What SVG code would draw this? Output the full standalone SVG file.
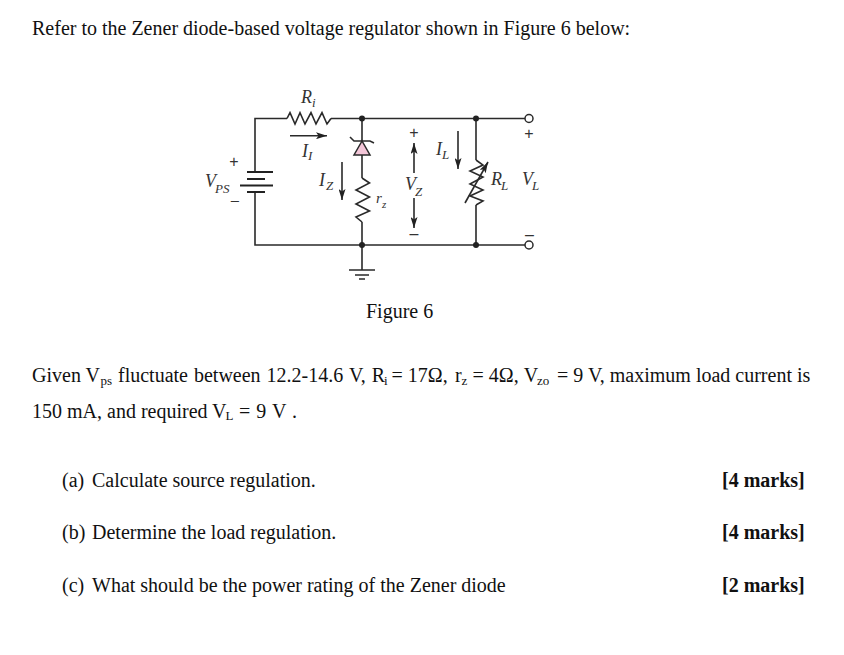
<svg xmlns="http://www.w3.org/2000/svg" width="844" height="655" viewBox="0 0 844 655">
<style>
text{font-family:"Liberation Serif","Times New Roman",serif;fill:#111}
.t{font-size:20px}
.s{font-size:13px}
.m{font-weight:bold}
.c{font-size:18px;font-style:italic;fill:#333}
.cs{font-size:13px;font-style:italic;fill:#333}
.p{font-size:16px;font-family:"Liberation Sans",sans-serif;fill:#333;text-anchor:middle}
.w{fill:none;stroke:#2a2a2a;stroke-width:1.6}
.b{fill:none;stroke:#222;stroke-width:2.2}
.d{fill:#222}
</style>
<defs>
<marker id="ah" viewBox="0 0 11 7" refX="11" refY="3.500" markerWidth="11" markerHeight="7" markerUnits="userSpaceOnUse" orient="auto"><path d="M0 0L11 3.500L0 7L2.500 3.500Z" fill="#222"/></marker>
</defs>
<rect width="844" height="655" fill="#fff"/>
<g id="heading"><text class="t" x="32" y="35">Refer to the Zener diode-based voltage regulator shown in Figure 6 below:</text></g>
<g id="connectors">
<path class="w" d="M287 118.500H255V172M255 192V245H525M331 118.500H525M362 118.500V178M362 222V270M476 118.500V160M476 205V245"/>
<path class="w" d="M290 135.700H327" marker-end="url(#ah)"/>
<path class="w" d="M342 162V200" marker-end="url(#ah)"/>
<path class="w" d="M458 131V169" marker-end="url(#ah)"/>
<path class="w" d="M414 173V143" marker-end="url(#ah)"/>
<path class="w" d="M414 198V228" marker-end="url(#ah)"/>
</g>
<g id="battery"><path class="b" d="M247 172H273M247 179H265M240 185.500H273M247 192H265"/>
<text class="p" x="234" y="167">+</text><text class="p" x="235" y="199" style="font-size:14px">_</text>
<text class="c" x="205" y="187">V</text><text class="cs" x="215" y="193">PS</text></g>
<g id="ri"><path class="w" d="M287 118.500L290 112.700L295 124L300 112.700L305 124L311 112.700L316 124L322 112.700L327 124L331 118.500"/>
<text class="c" x="301" y="103">R</text><text class="cs" x="312" y="107">i</text>
<text class="c" x="302" y="157">I</text><text class="cs" x="308" y="160">I</text></g>
<g id="zener"><path d="M362 141L354 155H370Z" fill="#f3c6d8" stroke="#2a2a2a" stroke-width="1.500"/>
<path class="w" d="M350 137L354 141H370L374 143"/>
<text class="c" x="319" y="186">I</text><text class="cs" x="326" y="190">Z</text></g>
<g id="rz"><path class="w" d="M362 178L369.500 183L356 190L369.500 197L356 204L369.500 211L356 217L362 222"/>
<text class="cs" x="376" y="203" style="font-size:15px">r</text><text class="cs" x="382" y="208" style="font-size:11px">z</text></g>
<g id="nodes"><circle class="d" cx="362" cy="118.500" r="3"/><circle class="d" cx="362" cy="245" r="3"/><circle class="d" cx="476" cy="118.500" r="3"/><circle class="d" cx="476" cy="245" r="3"/></g>
<g id="ground"><path class="w" d="M349 270H375M355 275H369M359 279H365"/></g>
<g id="vz"><text class="p" x="414" y="138">+</text><text class="p" x="414" y="239">–</text>
<text class="c" x="405" y="190">V</text><text class="cs" x="415" y="196">Z</text></g>
<g id="rl"><path class="w" d="M476 160L483 165L470 171L483 177L470 184L483 190L470 196L483 201L476 205"/>
<path class="w" d="M465 203L488 162" marker-end="url(#ah)"/>
<text class="c" x="436" y="155">I</text><text class="cs" x="442" y="159">L</text>
<text class="c" x="491" y="185">R</text><text class="cs" x="501" y="190">L</text>
<text class="c" x="522" y="185">V</text><text class="cs" x="532" y="190">L</text></g>
<g id="terminals"><circle cx="529" cy="118.500" r="4" fill="#fff" stroke="#2a2a2a" stroke-width="1.500"/><circle cx="529" cy="245" r="4" fill="#fff" stroke="#2a2a2a" stroke-width="1.500"/>
<text class="p" x="529" y="139">+</text><text class="p" x="529.500" y="240">–</text></g>
<g id="caption"><text class="t" x="366" y="318">Figure 6</text></g>
<g id="body">
<text class="t" y="382"><tspan x="32">Given V</tspan><tspan class="s" x="100.500" y="385">ps</tspan><tspan x="118" y="382" word-spacing="1">fluctuate between 12.2-14.6 V, R</tspan><tspan class="s" x="384" y="385">i</tspan><tspan x="391.500" y="382">= 17Ω,</tspan><tspan x="455" y="382">r</tspan><tspan class="s" x="461.500" y="385">z</tspan><tspan x="472.500" y="382">= 4Ω, V</tspan><tspan class="s" x="537" y="385">zo</tspan><tspan x="557" y="382">= 9 V, maximum load current is</tspan></text>
<text class="t" y="418"><tspan x="32">150 mA, and required</tspan><tspan x="212">V</tspan><tspan class="s" x="225.500" y="420">L</tspan><tspan x="239" y="418" word-spacing="1">= 9 V .</tspan></text>
</g>
<g id="questions">
<text class="t" y="487"><tspan x="62">(a)</tspan><tspan x="92">Calculate source regulation.</tspan></text><text class="t m" x="722" y="487">[4 marks]</text>
<text class="t" y="539"><tspan x="62">(b)</tspan><tspan x="92">Determine the load regulation.</tspan></text><text class="t m" x="722" y="539">[4 marks]</text>
<text class="t" y="592"><tspan x="62">(c)</tspan><tspan x="92">What should be the power rating of the Zener diode</tspan></text><text class="t m" x="722" y="592">[2 marks]</text>
</g>
</svg>
